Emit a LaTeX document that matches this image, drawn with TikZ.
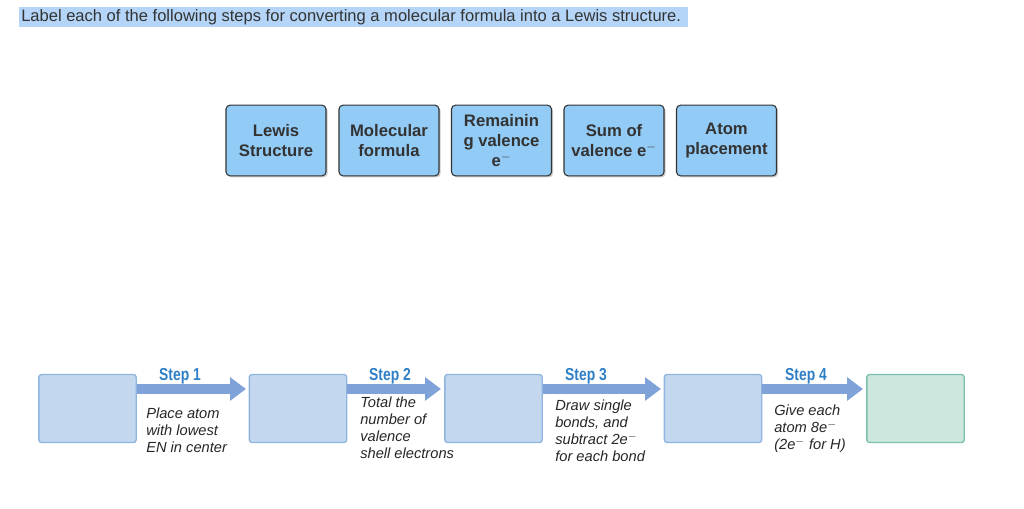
\documentclass[tikz,border=0pt]{standalone}
\usepackage{fontspec}
\setmainfont{Liberation Sans}
\usetikzlibrary{arrows.meta,shadows}
\definecolor{hl}{HTML}{B4D5F7}
\definecolor{card}{HTML}{92CBF6}
\definecolor{slot}{HTML}{C3D8EE}
\definecolor{slotb}{HTML}{8FB4E0}
\definecolor{goal}{HTML}{CDE7DF}
\definecolor{goalb}{HTML}{7BBFAE}
\definecolor{arr}{HTML}{7FA2D8}
\definecolor{steptxt}{HTML}{2F7FC6}
\tikzset{
 card/.style={draw=black!80,fill=card,rounded corners=3pt,line width=0.8pt,
   minimum width=75pt,minimum height=53pt,align=center,inner sep=1pt,
   font=\fontsize{12.5}{15}\selectfont\bfseries,text=black!80,
   drop shadow={shadow xshift=1.2pt,shadow yshift=-1.2pt,opacity=0.4}},
 slotbox/.style={draw=slotb,fill=slot,rounded corners=2pt,line width=1pt,
   minimum width=73pt,minimum height=51pt},
 goalbox/.style={slotbox,draw=goalb,fill=goal},
 flow/.style={draw=arr,line width=8pt,-{Triangle[length=12pt,width=17pt]}},
 steplbl/.style={font=\fontsize{13}{14}\selectfont\bfseries,text=steptxt,xscale=0.8},
 desc/.style={font=\fontsize{11}{12.6}\selectfont\itshape,text=black!85,align=left,anchor=north west,inner sep=0pt}
}
\begin{document}
\begin{tikzpicture}[x=0.75pt,y=-0.75pt]
\useasboundingbox (0,0) rectangle (1024,508);
\fill[hl] (19,7) rectangle (688,27);
\node[anchor=west,inner sep=0pt,font=\fontsize{12.4}{13}\selectfont,text=black!80] (title) at (21,17) {Label each of the following steps for converting a molecular formula into a Lewis structure.};
\node[card] (c1) at (276,140.5) {Lewis\\Structure};
\node[card] (c2) at (389,140.5) {Molecular\\formula};
\node[card] (c3) at (501.5,140.5) {Remainin\\g valence\\e$^{-}$};
\node[card] (c4) at (614,140.5) {Sum of\\valence e$^{-}$};
\node[card] (c5) at (726.5,140.5) {Atom\\placement};
\node[slotbox] (b1) at (87.5,408.5) {};
\node[slotbox] (b2) at (298,408.5) {};
\node[slotbox] (b3) at (493.5,408.5) {};
\node[slotbox] (b4) at (713,408.5) {};
\node[goalbox] (b5) at (915.5,408.5) {};
\coordinate (a1s) at (137,389); \coordinate (a1e) at (246,389);
\coordinate (a2s) at (347,389); \coordinate (a2e) at (441,389);
\coordinate (a3s) at (543,389); \coordinate (a3e) at (661,389);
\coordinate (a4s) at (762,389); \coordinate (a4e) at (863,389);
\draw[flow] (a1s) -- (a1e);
\draw[flow] (a2s) -- (a2e);
\draw[flow] (a3s) -- (a3e);
\draw[flow] (a4s) -- (a4e);
\node[steplbl] (s1) at (180,376) {Step 1};
\node[steplbl] (s2) at (390,376) {Step 2};
\node[steplbl] (s3) at (586,376) {Step 3};
\node[steplbl] (s4) at (806,376) {Step 4};
\node[desc] (d1) at (146,408) {Place atom\\with lowest\\EN in center};
\node[desc] (d2) at (360,397) {Total the\\number of\\valence\\shell electrons};
\node[desc] (d3) at (555,400) {Draw single\\bonds, and\\subtract 2e$^{-}$\\for each bond};
\node[desc] (d4) at (774,405) {Give each\\atom 8e$^{-}$\\(2e$^{-}$ for H)};
\end{tikzpicture}
\end{document}
